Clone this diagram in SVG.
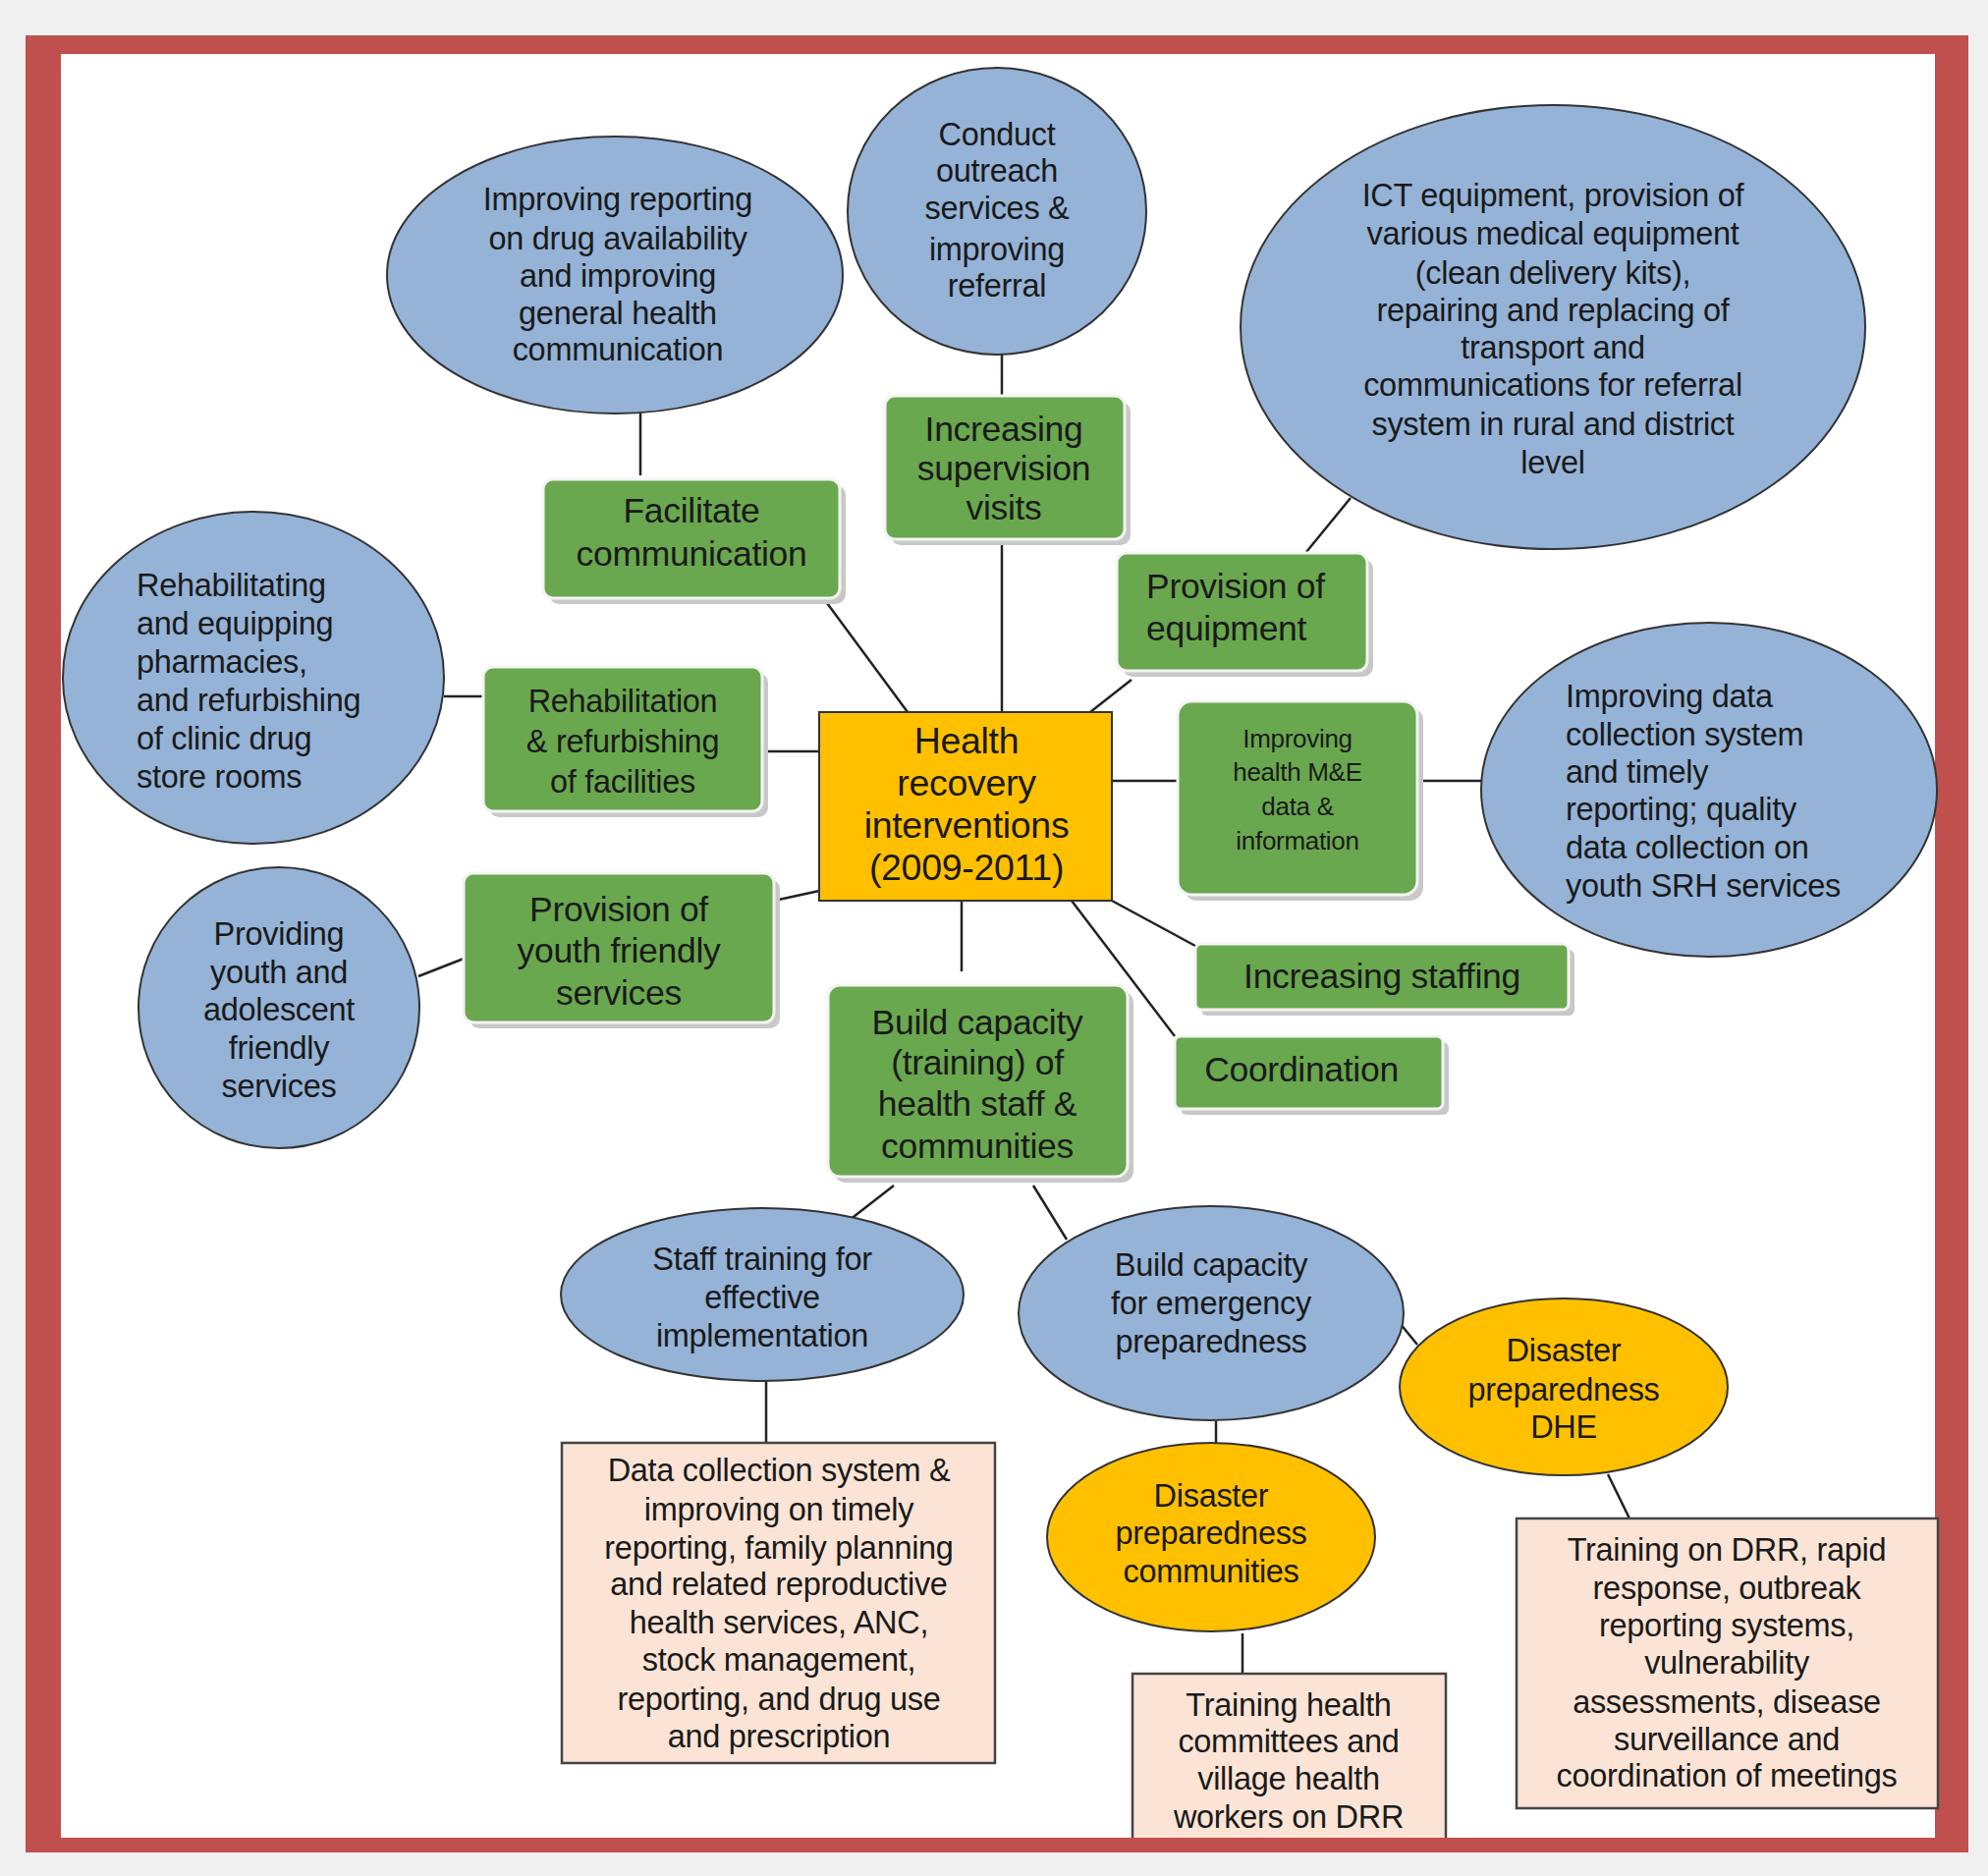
<svg xmlns="http://www.w3.org/2000/svg" width="2024" height="1910" viewBox="0 0 2024 1910">
<style>
text{font-family:"Liberation Sans",Arial,sans-serif;fill:#1a1a1a;text-anchor:middle;letter-spacing:-0.3px}
.b{fill:#95b3d7;stroke:#333;stroke-width:2}
.y{fill:#ffc000;stroke:#333;stroke-width:2}
.g{fill:#6aa84f;stroke:#f4f4f4;stroke-width:3}
.sh{fill:#c8c8c8}
.p{fill:#fbe4d5;stroke:#444;stroke-width:2.5}
.t29{font-size:32.5px}
.t32{font-size:35.5px}
.l{text-anchor:start}
#connectors line{stroke:#222;stroke-width:2.5}
</style>
<rect x="0" y="0" width="2024" height="1910" fill="#f0f0f0"/>
<rect x="26" y="36" width="1978" height="1850" fill="#c0504d"/>
<rect x="62" y="55" width="1908" height="1816" fill="#fff"/>
<g id="connectors">
<line x1="652" y1="419" x2="652" y2="484"/>
<line x1="1020" y1="360" x2="1020" y2="403"/>
<line x1="1375" y1="507" x2="1330" y2="562"/>
<line x1="842" y1="614" x2="924" y2="725"/>
<line x1="1020" y1="549" x2="1020" y2="725"/>
<line x1="1152" y1="692" x2="1110" y2="725"/>
<line x1="452" y1="709" x2="492" y2="709"/>
<line x1="776" y1="765" x2="834" y2="765"/>
<line x1="1132" y1="795" x2="1199" y2="795"/>
<line x1="1443" y1="795" x2="1508" y2="795"/>
<line x1="426" y1="994" x2="472" y2="976"/>
<line x1="788" y1="917" x2="834" y2="907"/>
<line x1="1132" y1="917" x2="1217" y2="963"/>
<line x1="1091" y1="917" x2="1196" y2="1055"/>
<line x1="979" y1="917" x2="979" y2="989"/>
<line x1="910" y1="1207" x2="865" y2="1242"/>
<line x1="1052" y1="1207" x2="1086" y2="1262"/>
<line x1="780" y1="1405" x2="780" y2="1469"/>
<line x1="1238" y1="1447" x2="1238" y2="1470"/>
<line x1="1425" y1="1347" x2="1443" y2="1369"/>
<line x1="1265" y1="1663" x2="1265" y2="1704"/>
<line x1="1637" y1="1501" x2="1659" y2="1546"/>
</g>
<g id="center"><rect x="834" y="725" width="298" height="192" class="y"/>
<text font-size="37.5"><tspan x="984" y="767">Health</tspan><tspan x="984" y="810">recovery</tspan><tspan x="984" y="853">interventions</tspan><tspan x="984" y="896">(2009-2011)</tspan></text></g>
<g id="g-facilitate"><rect x="559" y="494" width="302" height="121" rx="10" class="sh"/><rect x="553" y="488" width="302" height="121" rx="10" class="g"/>
<text class="t32"><tspan x="704" y="532">Facilitate</tspan><tspan x="704" y="576">communication</tspan></text></g>
<g id="g-supervision"><rect x="907" y="409" width="244" height="146" rx="10" class="sh"/><rect x="901" y="403" width="244" height="146" rx="10" class="g"/>
<text class="t32"><tspan x="1022" y="449">Increasing</tspan><tspan x="1022" y="489">supervision</tspan><tspan x="1022" y="529">visits</tspan></text></g>
<g id="g-equipment"><rect x="1143" y="569" width="255" height="120" rx="10" class="sh"/><rect x="1137" y="563" width="255" height="120" rx="10" class="g"/>
<text class="t32 l"><tspan x="1167" y="609">Provision of</tspan><tspan x="1167" y="652">equipment</tspan></text></g>
<g id="g-rehab"><rect x="498" y="685" width="284" height="147" rx="10" class="sh"/><rect x="492" y="679" width="284" height="147" rx="10" class="g"/>
<text class="t29"><tspan x="634" y="725">Rehabilitation</tspan><tspan x="634" y="766">&amp; refurbishing</tspan><tspan x="634" y="807">of facilities</tspan></text></g>
<g id="g-me"><rect x="1205" y="720" width="244" height="197" rx="14" class="sh"/><rect x="1199" y="714" width="244" height="197" rx="14" class="g"/>
<text font-size="26"><tspan x="1321" y="761">Improving</tspan><tspan x="1321" y="795">health M&amp;E</tspan><tspan x="1321" y="830">data &amp;</tspan><tspan x="1321" y="865">information</tspan></text></g>
<g id="g-youth"><rect x="478" y="895" width="316" height="152" rx="10" class="sh"/><rect x="472" y="889" width="316" height="152" rx="10" class="g"/>
<text class="t32"><tspan x="630" y="938">Provision of</tspan><tspan x="630" y="980">youth friendly</tspan><tspan x="630" y="1023">services</tspan></text></g>
<g id="g-staffing"><rect x="1223" y="967" width="380" height="67" rx="6" class="sh"/><rect x="1217" y="961" width="380" height="67" rx="6" class="g"/>
<text class="t32"><tspan x="1407" y="1006">Increasing staffing</tspan></text></g>
<g id="g-coord"><rect x="1202" y="1061" width="273" height="74" rx="6" class="sh"/><rect x="1196" y="1055" width="273" height="74" rx="6" class="g"/>
<text class="t32"><tspan x="1325" y="1101">Coordination</tspan></text></g>
<g id="g-capacity"><rect x="849" y="1009" width="305" height="195" rx="12" class="sh"/><rect x="843" y="1003" width="305" height="195" rx="12" class="g"/>
<text class="t32"><tspan x="995" y="1053">Build capacity</tspan><tspan x="995" y="1094">(training) of</tspan><tspan x="995" y="1136">health staff &amp;</tspan><tspan x="995" y="1179">communities</tspan></text></g>
<g id="e-reporting"><ellipse cx="626" cy="280" rx="232" ry="141" class="b"/>
<text class="t29"><tspan x="629" y="214">Improving reporting</tspan><tspan x="629" y="254">on drug availability</tspan><tspan x="629" y="292">and improving</tspan><tspan x="629" y="330">general health</tspan><tspan x="629" y="367">communication</tspan></text></g>
<g id="e-outreach"><ellipse cx="1015" cy="215" rx="152" ry="146" class="b"/>
<text class="t29"><tspan x="1015" y="148">Conduct</tspan><tspan x="1015" y="185">outreach</tspan><tspan x="1015" y="223">services &amp;</tspan><tspan x="1015" y="265">improving</tspan><tspan x="1015" y="302">referral</tspan></text></g>
<g id="e-ict"><ellipse cx="1581" cy="333" rx="318" ry="226" class="b"/>
<text class="t29"><tspan x="1581" y="210">ICT equipment, provision of</tspan><tspan x="1581" y="249">various medical equipment</tspan><tspan x="1581" y="289">(clean delivery kits),</tspan><tspan x="1581" y="327">repairing and replacing of</tspan><tspan x="1581" y="365">transport and</tspan><tspan x="1581" y="403">communications for referral</tspan><tspan x="1581" y="443">system in rural and district</tspan><tspan x="1581" y="482">level</tspan></text></g>
<g id="e-rehab"><ellipse cx="258" cy="690" rx="194" ry="169" class="b"/>
<text class="t29 l"><tspan x="139" y="607">Rehabilitating</tspan><tspan x="139" y="646">and equipping</tspan><tspan x="139" y="685">pharmacies,</tspan><tspan x="139" y="724">and refurbishing</tspan><tspan x="139" y="763">of clinic drug</tspan><tspan x="139" y="802">store rooms</tspan></text></g>
<g id="e-youth"><ellipse cx="284" cy="1026" rx="143" ry="143" class="b"/>
<text class="t29"><tspan x="284" y="962">Providing</tspan><tspan x="284" y="1001">youth and</tspan><tspan x="284" y="1039">adolescent</tspan><tspan x="284" y="1078">friendly</tspan><tspan x="284" y="1117">services</tspan></text></g>
<g id="e-data"><ellipse cx="1740" cy="804" rx="232" ry="170" class="b"/>
<text class="t29 l"><tspan x="1594" y="720">Improving data</tspan><tspan x="1594" y="759">collection system</tspan><tspan x="1594" y="797">and timely</tspan><tspan x="1594" y="835">reporting; quality</tspan><tspan x="1594" y="874">data collection on</tspan><tspan x="1594" y="913">youth SRH services</tspan></text></g>
<g id="e-stafftraining"><ellipse cx="776" cy="1318" rx="205" ry="88" class="b"/>
<text class="t29"><tspan x="776" y="1293">Staff training for</tspan><tspan x="776" y="1332">effective</tspan><tspan x="776" y="1371">implementation</tspan></text></g>
<g id="e-emergency"><ellipse cx="1233" cy="1337" rx="196" ry="109" class="b"/>
<text class="t29"><tspan x="1233" y="1299">Build capacity</tspan><tspan x="1233" y="1338">for emergency</tspan><tspan x="1233" y="1377">preparedness</tspan></text></g>
<g id="e-dhe"><ellipse cx="1592" cy="1412" rx="167" ry="90" class="y"/>
<text class="t29"><tspan x="1592" y="1386">Disaster</tspan><tspan x="1592" y="1426">preparedness</tspan><tspan x="1592" y="1464">DHE</tspan></text></g>
<g id="e-communities"><ellipse cx="1233" cy="1565" rx="167" ry="96" class="y"/>
<text class="t29"><tspan x="1233" y="1534">Disaster</tspan><tspan x="1233" y="1572">preparedness</tspan><tspan x="1233" y="1611">communities</tspan></text></g>
<g id="p-datacollection"><rect x="572" y="1469" width="441" height="326" class="p"/>
<text class="t29"><tspan x="793" y="1508">Data collection system &amp;</tspan><tspan x="793" y="1548">improving on timely</tspan><tspan x="793" y="1587">reporting, family planning</tspan><tspan x="793" y="1624">and related reproductive</tspan><tspan x="793" y="1663">health services, ANC,</tspan><tspan x="793" y="1701">stock management,</tspan><tspan x="793" y="1741">reporting, and  drug use</tspan><tspan x="793" y="1779">and prescription</tspan></text></g>
<g id="p-committees"><rect x="1153" y="1704" width="319" height="180" class="p"/>
<text class="t29"><tspan x="1312" y="1747">Training health</tspan><tspan x="1312" y="1784">committees and</tspan><tspan x="1312" y="1822">village health</tspan><tspan x="1312" y="1861">workers on DRR</tspan></text></g>
<g id="p-drr"><rect x="1544" y="1546" width="429" height="295" class="p"/>
<text class="t29"><tspan x="1758" y="1589">Training on DRR, rapid</tspan><tspan x="1758" y="1628">response, outbreak</tspan><tspan x="1758" y="1666">reporting systems,</tspan><tspan x="1758" y="1704">vulnerability</tspan><tspan x="1758" y="1744">assessments, disease</tspan><tspan x="1758" y="1782">surveillance and</tspan><tspan x="1758" y="1819">coordination of meetings</tspan></text></g>
<rect x="26" y="1871" width="1978" height="15" fill="#c0504d"/>
</svg>
